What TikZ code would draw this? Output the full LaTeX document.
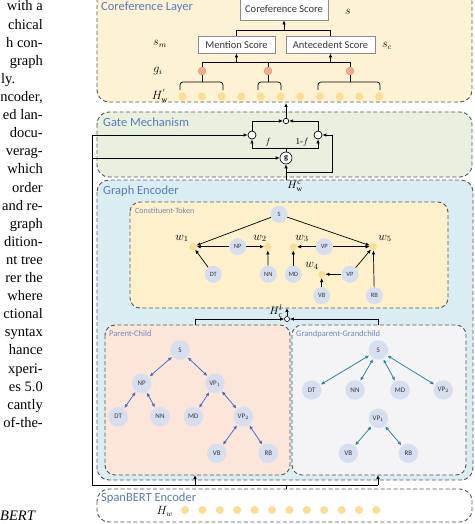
\documentclass[tikz,border=0pt]{standalone}
\usepackage{fontspec}
\setmainfont{Liberation Serif}
\newfontfamily\carl{Carlito}
\usetikzlibrary{arrows.meta}
\definecolor{corefill}{RGB}{253,243,212}
\definecolor{gatefill}{RGB}{234,240,222}
\definecolor{graphfill}{RGB}{218,237,243}
\definecolor{constfill}{RGB}{253,240,203}
\definecolor{parentfill}{RGB}{252,230,217}
\definecolor{grandfill}{RGB}{244,244,246}
\definecolor{dashgray}{RGB}{85,85,85}
\definecolor{titleblue}{RGB}{88,122,190}
\definecolor{subblue}{RGB}{112,136,190}
\definecolor{nodefill}{RGB}{214,223,240}
\definecolor{ntext}{RGB}{55,55,60}
\definecolor{dotyellow}{RGB}{251,222,145}
\definecolor{dotorange}{RGB}{244,172,135}
\definecolor{dotorangeb}{RGB}{226,140,105}
\definecolor{blueedge}{RGB}{68,114,196}
\definecolor{tealedge}{RGB}{47,134,156}
\definecolor{boxgray}{RGB}{140,140,140}
\tikzset{
  panel/.style={draw=dashgray, dash pattern=on 4pt off 2.5pt, line width=0.9pt, rounded corners=12pt},
  subpanel/.style={draw=dashgray, dash pattern=on 4pt off 2.5pt, line width=0.9pt, rounded corners=10pt},
  ptitle/.style={anchor=west, text=titleblue, font=\carl\fontsize{12.5}{12.5}\selectfont, inner sep=0pt},
  stitle/.style={anchor=west, text=subblue, font=\carl\fontsize{8.5}{9}\selectfont, inner sep=0pt},
  tok/.style={circle, fill=nodefill, minimum size=17pt, inner sep=0pt, text=ntext, font=\carl\fontsize{6.5}{7}\selectfont},
  tnode/.style={tok, minimum size=19.5pt, font=\carl\fontsize{7}{7}\selectfont},
  wdot/.style={circle, fill=dotyellow, minimum size=7pt, inner sep=0pt},
  hdot/.style={circle, fill=dotyellow, minimum size=8pt, inner sep=0pt},
  gdot/.style={circle, fill=dotorange, draw=dotorangeb, line width=0.3pt, minimum size=8pt, inner sep=0pt},
  scorebox/.style={draw=boxgray, fill=white, line width=0.8pt, inner sep=0pt, text=ntext, font=\carl\fontsize{10.5}{10.5}\selectfont},
  arr/.style={-{Latex[length=4pt,width=3.5pt]}, line width=0.7pt},
  plain/.style={line width=0.7pt},
  barr/.style={{Latex[length=4pt,width=3.5pt]}-{Latex[length=4pt,width=3.5pt]}, draw=blueedge, line width=0.8pt, shorten >=0.5pt, shorten <=0.5pt},
  tarr/.style={{Latex[length=4pt,width=3.5pt]}-{Latex[length=4pt,width=3.5pt]}, draw=tealedge, line width=0.8pt, shorten >=0.5pt, shorten <=0.5pt},
  smallc/.style={circle, draw=black, fill=white, line width=0.6pt, minimum size=5.5pt, inner sep=0pt},
  otim/.style={circle, draw=black, fill=white, line width=0.7pt, minimum size=8pt, inner sep=0pt,
     append after command={[draw=black, line width=1.1pt] (\tikzlastnode.north west) -- (\tikzlastnode.south east) (\tikzlastnode.north east) -- (\tikzlastnode.south west)}},
  gcirc/.style={circle, draw=black, fill=white, line width=0.6pt, minimum size=12pt, inner sep=0pt, font=\bfseries\fontsize{8}{8}\selectfont},
  lab/.style={inner sep=0pt, font=\fontsize{12}{12}\selectfont},
  ltext/.style={anchor=base east, inner sep=0pt, font=\fontsize{14.5}{14.5}\selectfont},
}
\begin{document}
\begin{tikzpicture}[x=1pt,y=-1pt]
\useasboundingbox (0,0) rectangle (474,524);
\clip (0,0) rectangle (474,524);

% ---- left column text of the page
\foreach \t [count=\k from 0] in {{with a},{chical},{h con-},{graph},{},{ncoder,},{ed lan-},{docu-},{verag-},{which},{order},{and re-},{graph},{dition-},{nt tree},{rer the},{where},{ctional},{syntax},{hance},{xperi-},{es 5.0},{cantly},{of-the-}}{
  \node[ltext] (lt\k) at (43,{11+18.1*\k}) {\t};
}
\node[anchor=base west, inner sep=0pt, font=\fontsize{14.5}{14.5}\selectfont] (ly) at (1,{11+18.1*4}) {ly.};
\node[anchor=base west, inner sep=0pt, font=\itshape\fontsize{14.5}{14.5}\selectfont] (bert) at (0,520) {BERT};

% ---- panels
\draw[panel, fill=corefill] (97,-20) rectangle (472,102);
\draw[panel, fill=gatefill] (97,112) rectangle (472,177);
\draw[panel, fill=graphfill] (97,180) rectangle (473,480);
\draw[subpanel, fill=constfill] (130,202) rectangle (448,308);
\draw[subpanel, fill=parentfill] (105,325) rectangle (290,475);
\draw[subpanel, fill=grandfill] (292,325) rectangle (466,475);
\draw[panel, fill=white] (97,489) rectangle (472,522);

\node[ptitle] (t1) at (101,7) {Coreference Layer};
\node[ptitle] (t2) at (103,122) {Gate Mechanism};
\node[ptitle] (t3) at (103,191) {Graph Encoder};
\node[ptitle] (t4) at (101,498) {SpanBERT Encoder};
\node[stitle, font=\carl\fontsize{8}{8}\selectfont, text=subblue!80!gray] (t5) at (135,211) {Constituent-Token};
\node[stitle] (t6) at (109,334) {Parent-Child};
\node[stitle] (t7) at (296,334) {Grandparent-Grandchild};

% ---- coreference layer
\node[scorebox, minimum width=88pt, minimum height=23pt] (cs) at (284,8.5) {Coreference Score};
\node[scorebox, minimum width=77pt, minimum height=17pt] (ms) at (236.5,44.5) {Mention Score};
\node[scorebox, minimum width=89pt, minimum height=17pt] (as) at (330.5,44.5) {Antecedent Score};
\node[lab] (ls) at (348,12) {$s$};
\node[lab] (lsm) at (160,44) {$s_m$};
\node[lab] (lsc) at (387,46) {$s_c$};
\node[lab] (lgi) at (158,71) {$g_i$};
\node[lab] (lhw) at (160,96) {$H^{'}_{\mathrm{w}}$};

\coordinate (mj) at (284,30);
\draw[plain] (ms.north) -- (ms.north |- mj) -- (as.north |- mj) -- (as.north);
\draw[arr] (mj) -- (cs.south);

\node[gdot] (g1) at (202,71) {};
\node[gdot] (g2) at (268,71) {};
\node[gdot] (g3) at (350,71) {};
\coordinate (gj) at (0,62);
\draw[plain] (g1.north) -- (g1.north |- gj) -- (g3.north |- gj) -- (g3.north);
\draw[plain] (g2.north) -- (g2.north |- gj);
\draw[arr] (ms.south |- gj) -- (ms.south);
\draw[arr] (as.south |- gj) -- (as.south);

\coordinate (bj) at (0,82);
\draw[plain] (g1.south) -- (g1.south |- bj);
\draw[plain] (g2.south) -- (g2.south |- bj);
\draw[plain] (g3.south) -- (g3.south |- bj);
\draw[plain, rounded corners=3pt] (180,90) -- (180,82) -- (223,82) -- (223,90);
\draw[plain, rounded corners=3pt] (258,90) -- (258,82) -- (281,82) -- (281,90);
\draw[plain, rounded corners=3pt] (318,90) -- (318,82) -- (380,82) -- (380,90);

\foreach \i in {0,...,10}{
  \node[hdot] (hp\i) at ({182.3+19.67*\i},96.5) {};
}

% ---- gate mechanism
\coordinate (cbot) at (286,103);
\node[smallc] (sum) at (286,121) {};
\node[otim] (oL) at (252,135) {};
\node[otim] (oR) at (318,135) {};
\node[gcirc] (gg) at (286,158) {g};
\draw[arr] (sum.north) -- (cbot);
\draw[arr] (oL.north) |- (sum.west);
\draw[arr] (oR.north) |- (sum.east);
\coordinate (fj) at (286,148);
\draw[plain] (gg.north) -- (fj);
\draw[arr] (fj) -| (oL.south);
\draw[arr] (fj) -| (oR.south);
\node[inner sep=0pt, font=\fontsize{9}{9}\selectfont] (lf) at (268,142) {$f$};
\node[inner sep=0pt, font=\fontsize{9}{9}\selectfont] (l1f) at (302,142) {1-$f$};

\coordinate (lb) at (92,485);
\coordinate (ltop) at (92,135);
\coordinate (lmid) at (92,158);
\draw[arr] (lb) -- (ltop) -- (oL.west);
\draw[arr] (lmid) -- (gg.west);
\coordinate (gtop) at (286,180);
\coordinate (brj) at (286,172);
\coordinate (brr) at (332,172);
\coordinate (brt) at (332,135);
\draw[arr] (gtop) -- (gg.south);
\draw[arr] (brj) -- (brr) -- (brt) -- (oR.east);
\node[inner sep=0pt, font=\fontsize{11}{11}\selectfont] (lhc) at (295,186) {$H^{\mathrm{c}}_{\mathrm{w}}$};

% ---- bottom connections
\coordinate (sbt) at (286,489);
\coordinate (sbj) at (286,485);
\coordinate (pcb) at (195,485);
\coordinate (gpb) at (378,485);
\draw[plain] (sbt) -- (sbj);
\draw[plain] (lb) -- (gpb);
\draw[arr] (pcb) -- (195,475);
\draw[arr] (gpb) -- (378,475);

% ---- junction H_c^l
\node[smallc, minimum size=5pt] (hj) at (287,319) {};
\coordinate (pct) at (195,325);
\coordinate (gpt) at (378,325);
\coordinate (cstb) at (287,308);
\draw[arr] (pct) -- (195,319) -- (hj.west);
\draw[arr] (gpt) -- (378,319) -- (hj.east);
\draw[arr] (hj.north) -- (cstb);
\node[inner sep=0pt, font=\fontsize{11}{11}\selectfont] (lhl) at (276,311) {$H^{l}_{\mathrm{c}}$};

% ---- constituent-token graph
\node[tok] (cS) at (279,214.3) {S};
\node[tok] (cNP) at (237.7,246.7) {NP};
\node[tok] (cVP) at (324.3,246.7) {VP};
\node[tok] (cDT) at (213.3,274.3) {DT};
\node[tok] (cNN) at (268.3,274.3) {NN};
\node[tok] (cMD) at (293.3,274.3) {MD};
\node[tok] (cVPb) at (350,274.3) {VP};
\node[tok] (cVB) at (321.7,295.7) {VB};
\node[tok] (cRB) at (374.3,295.7) {RB};
\node[wdot] (w1) at (193,246.7) {};
\node[wdot] (w2) at (267.7,246.7) {};
\node[wdot] (w3) at (293.3,246.7) {};
\node[wdot] (w4) at (321.7,274.3) {};
\node[wdot] (w5) at (373.3,246.7) {};
\node[lab] (lw1) at (182,238.5) {$w_1$};
\node[lab] (lw2) at (260,238.5) {$w_2$};
\node[lab] (lw3) at (302,238.5) {$w_3$};
\node[lab] (lw4) at (312,266) {$w_4$};
\node[lab] (lw5) at (385,238.5) {$w_5$};
\draw[arr] (cS) -- (w1);
\draw[arr] (cS) -- (w5);
\draw[arr] (cNP) -- (w1);
\draw[arr] (cNP) -- (w2);
\draw[arr] (cDT) -- (w1);
\draw[arr] (cNN) -- (w2);
\draw[arr] (cVP) -- (w3);
\draw[arr] (cVP) -- (w5);
\draw[arr] (cMD) -- (w3);
\draw[arr] (cVPb) -- (w4);
\draw[arr] (cVPb) -- (w5);
\draw[arr] (cVB) -- (w4);
\draw[arr] (cRB) -- (w5);

% ---- parent-child tree
\node[tnode] (pS) at (180,350) {S};
\node[tnode] (pNP) at (141.7,383.3) {NP};
\node[tnode] (pVP1) at (215,383.3) {VP$_1$};
\node[tnode] (pDT) at (118.3,416.7) {DT};
\node[tnode] (pNN) at (160,416.7) {NN};
\node[tnode] (pMD) at (193.3,416.7) {MD};
\node[tnode] (pVP2) at (243.3,416.7) {VP$_2$};
\node[tnode] (pVB) at (216.7,453.3) {VB};
\node[tnode] (pRB) at (268.3,453.3) {RB};
\draw[barr] (pS) -- (pNP);
\draw[barr] (pS) -- (pVP1);
\draw[barr] (pNP) -- (pDT);
\draw[barr] (pNP) -- (pNN);
\draw[barr] (pVP1) -- (pMD);
\draw[barr] (pVP1) -- (pVP2);
\draw[barr] (pVP2) -- (pVB);
\draw[barr] (pVP2) -- (pRB);

% ---- grandparent-grandchild
\node[tnode] (qS) at (378.3,350) {S};
\node[tnode] (qDT) at (311.7,390) {DT};
\node[tnode] (qNN) at (355,390) {NN};
\node[tnode] (qMD) at (400,390) {MD};
\node[tnode] (qVP2) at (443.3,390) {VP$_2$};
\node[tnode] (qVP1) at (378.3,418.3) {VP$_1$};
\node[tnode] (qVB) at (348.3,453.3) {VB};
\node[tnode] (qRB) at (408.3,453.3) {RB};
\draw[tarr] (qS) -- (qDT);
\draw[tarr] (qS) -- (qNN);
\draw[tarr] (qS) -- (qMD);
\draw[tarr] (qS) -- (qVP2);
\draw[tarr] (qVP1) -- (qVB);
\draw[tarr] (qVP1) -- (qRB);

% ---- SpanBERT
\node[lab] (lhw2) at (165,511) {$H_w$};
\foreach \i in {0,...,11}{
  \node[hdot] (hw\i) at ({185+17.4*\i},510) {};
}
\end{tikzpicture}
\end{document}
